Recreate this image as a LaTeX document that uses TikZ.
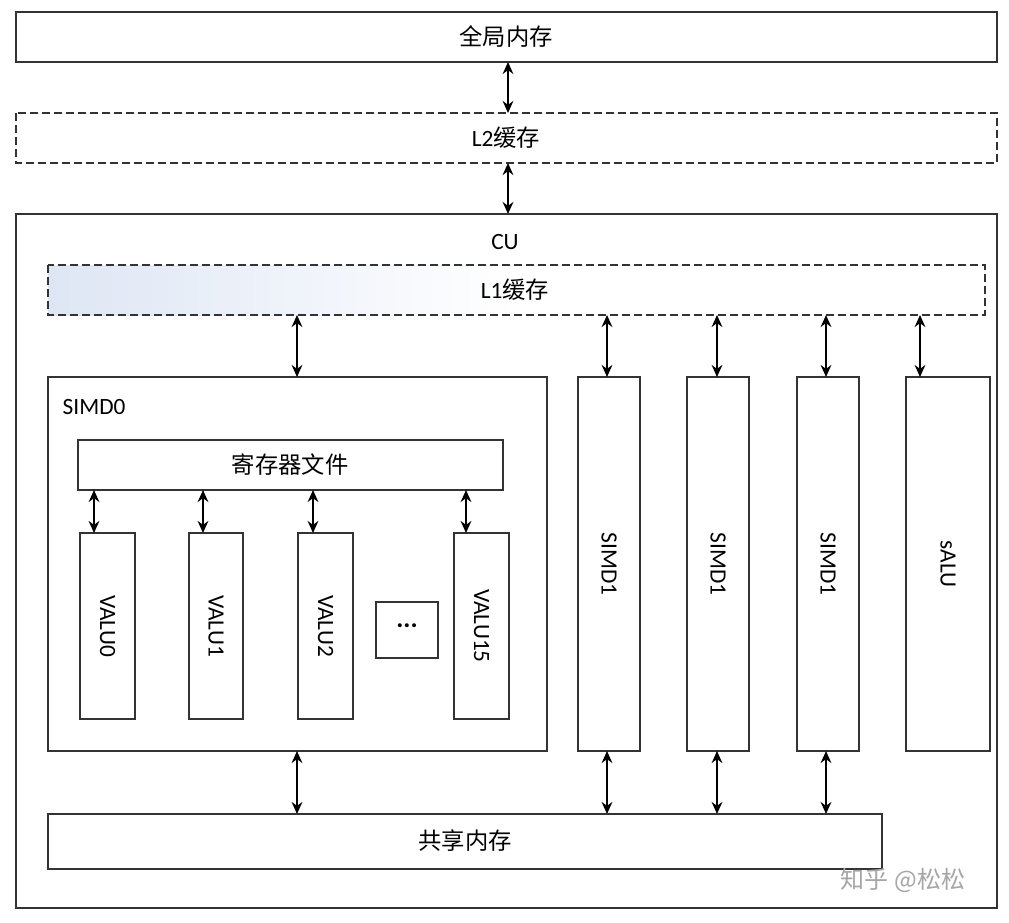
\documentclass[tikz,border=0pt]{standalone}
\usepackage{fontspec}
\setmainfont{Carlito}
\newfontfamily\cjk{Noto Sans CJK SC}
\usetikzlibrary{arrows.meta}
\definecolor{lblue}{RGB}{222,230,244}
\begin{document}
\begin{tikzpicture}[x=0.75pt,y=-0.75pt,
  box/.style={draw=black!80,line width=0.9pt},
  dbox/.style={draw=black!80,line width=0.9pt,dash pattern=on 6pt off 3pt},
  lbl/.style={font=\fontsize{17.5}{19}\selectfont},
  arr/.style={{Stealth[length=9pt,width=8pt]}-{Stealth[length=9pt,width=8pt]},line width=1.5pt}]
\useasboundingbox (0,0) rectangle (1009,922);
\fill[white] (0,0) rectangle (1009,922);
% top
\draw[box] (16,12) rectangle (997,62);
\node[lbl] (gm) at (506,37) {\cjk 全局内存};
\draw[dbox] (16,113) rectangle (997,163);
\node[lbl] (l2) at (506,138) {L2{\cjk 缓存}};
\coordinate (a1) at (508,62); \coordinate (a2) at (508,113);
\coordinate (a3) at (508,163); \coordinate (a4) at (508,214);
\draw[arr] (a1) -- (a2);
\draw[arr] (a3) -- (a4);
% CU
\draw[box] (16,214) rectangle (997,908);
\node[lbl] (cu) at (505,242) {CU};
\shade[left color=lblue,right color=white,middle color=white] (48,265) rectangle (985,315);
\draw[dbox] (48,265) rectangle (985,315);
\node[lbl] (l1) at (515,290) {L1{\cjk 缓存}};
% SIMD0
\draw[box] (48,377) rectangle (547,751);
\node[lbl,anchor=west] (s0) at (58,407) {SIMD0};
\draw[box] (78,440) rectangle (503,490);
\node[lbl] (rf) at (290,465) {\cjk 寄存器文件};
\foreach \x/\w/\t in {80/55/VALU0,189/54/VALU1,298/55/VALU2,454/55/VALU15}{
  \draw[box] (\x,533) rectangle ++(\w,186);
  \node[lbl,rotate=-90] (v\t) at (\x+\w/2,626) {\t};
}
\draw[box] (376,602) rectangle (438,658);
\node[font=\bfseries\fontsize{20}{20}\selectfont] (dots) at (407,626) {...};
\foreach \x in {94,203,313,466}{
  \coordinate (r\x) at (\x,490); \coordinate (q\x) at (\x,533);
  \draw[arr] (r\x) -- (q\x);
}
% SIMD1 / sALU
\foreach \x/\w/\t in {578/62/SIMD1,687/62/SIMD1,797/62/SIMD1,906/84/sALU}{
  \draw[box] (\x,377) rectangle ++(\w,374);
  \node[lbl,rotate=-90] at (\x+\w/2,564) {\t};
}
\foreach \x in {297,607,717,826,920}{
  \coordinate (t\x) at (\x,315); \coordinate (u\x) at (\x,377);
  \draw[arr] (t\x) -- (u\x);
}
\foreach \x in {297,607,717,826}{
  \coordinate (d\x) at (\x,751); \coordinate (e\x) at (\x,814);
  \draw[arr] (d\x) -- (e\x);
}
\draw[box] (48,814) rectangle (882,869);
\node[lbl] (sm) at (465,841) {\cjk 共享内存};
\node[font=\fontsize{18}{20}\selectfont\cjk,text=black!35] (wm) at (903,880) {知乎 @松松};
\end{tikzpicture}
\end{document}
